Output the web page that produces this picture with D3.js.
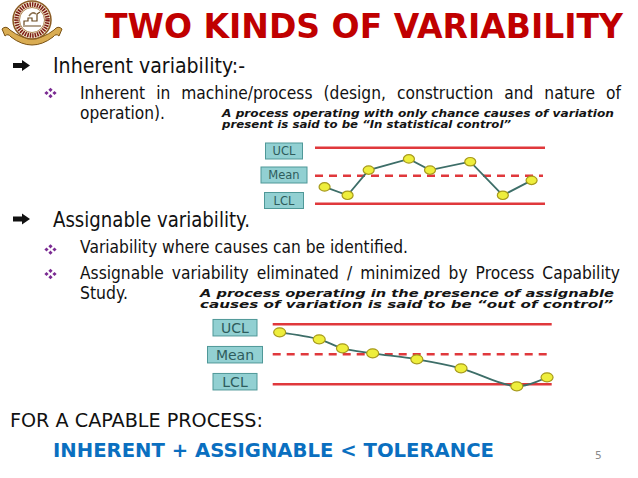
<!DOCTYPE html>
<html>
<head>
<meta charset="utf-8">
<script src="https://cdn.jsdelivr.net/npm/d3@7/dist/d3.min.js"></script>
<style>
  html, body { margin: 0; padding: 0; background: #ffffff; }
  svg { display: block; }
</style>
</head>
<body>
<script>
// ---------------- DATA ----------------
const titleText = "TWO KINDS OF VARIABILITY";
const limitLabels = ["UCL", "Mean", "LCL"];
const limitValues = [3, 0, -3];          // UCL, mean, LCL in sigma units
const chart1X = [0.5, 1.7, 2.8, 4.9, 6.0, 8.1, 9.8, 11.3];
const chart1Y = [-1.2, -2.1, 0.6, 1.8, 0.6, 1.5, -2.1, -0.5];
const chart2X = [0.3, 2.0, 3.0, 4.3, 6.2, 8.1, 10.5, 11.8];
const chart2Y = [2.2, 1.5, 0.6, 0.1, -0.5, -1.4, -3.2, -2.3];
const chart1Caption = ["A process operating with only chance causes of variation",
                       "present is said to be \u201CIn statistical control\u201D"];
const chart2Caption = ["A process operating in the presence of assignable",
                       "causes of variation is said to be \u201Cout of control\u201D"];

// ---------------- SETUP ----------------
const W = 638, H = 478;
const svg = d3.select("body").append("svg").attr("width", W).attr("height", H);
const BODY_FONT = "'DejaVu Sans', Verdana, sans-serif";

function measure(text, size, weight) {
  const t = svg.append("text").attr("font-family", BODY_FONT)
    .attr("font-size", size).attr("font-weight", weight || "normal").text(text);
  const w = t.node().getComputedTextLength();
  t.remove();
  return w;
}

function fitText(text, x0, x1, y, size, opts) {
  opts = opts || {};
  return svg.append("text")
    .attr("x", x0).attr("y", y)
    .attr("font-family", opts.family || BODY_FONT)
    .attr("font-size", size)
    .attr("font-weight", opts.weight || "normal")
    .attr("font-style", opts.style || "normal")
    .attr("fill", opts.fill || "#111")
    .attr("textLength", x1 - x0)
    .attr("lengthAdjust", "spacingAndGlyphs")
    .text(text);
}

// justified line: one text per word, each compressed by comp via transform, gaps spread evenly
function justified(text, x0, x1, y, size, comp) {
  const words = text.split(" ");
  const naturals = words.map(w => measure(w, size));
  const widths = naturals.map(n => n * comp);
  const gap = (x1 - x0 - d3.sum(widths)) / (words.length - 1);
  let x = x0;
  words.forEach((w, i) => {
    svg.append("text")
      .attr("transform", `translate(${x},${y}) scale(${comp},1)`)
      .attr("font-family", BODY_FONT).attr("font-size", size)
      .attr("fill", "#111")
      .text(w);
    x += widths[i] + gap;
  });
}

function arrowBullet(x, cy) {
  const p = d3.path();
  p.moveTo(x, cy - 2.6); p.lineTo(x + 9, cy - 2.6); p.lineTo(x + 9, cy - 5.5);
  p.lineTo(x + 17, cy); p.lineTo(x + 9, cy + 5.5); p.lineTo(x + 9, cy + 2.6);
  p.lineTo(x, cy + 2.6); p.closePath();
  svg.append("path").attr("d", p.toString()).attr("fill", "#111");
}

function diamondBullet(cx, cy) {
  const offs = [[0, -3.2], [0, 3.2], [-4, 0], [4, 0]];
  const g = svg.append("g").attr("transform", `translate(${cx},${cy})`);
  offs.forEach(o => {
    const s = 2.1;
    g.append("path")
      .attr("d", `M${o[0]},${o[1] - s}L${o[0] + s},${o[1]}L${o[0]},${o[1] + s}L${o[0] - s},${o[1]}Z`)
      .attr("fill", "#7a2a92");
  });
}

// ---------------- LOGO ----------------
(function logo() {
  const g = svg.append("g").attr("transform", "translate(32,20)");
  g.append("path").attr("d", "M-30,9 Q-26,5 -22,10 Q0,27 22,10 Q26,5 30,9 L27,16 Q24,13 21,17 Q0,33 -21,17 Q-24,13 -27,16 Z")
    .attr("fill", "#d9ac52").attr("stroke", "#7a5214").attr("stroke-width", 1);
  g.append("circle").attr("r", 19).attr("fill", "#f4ead0").attr("stroke", "#8a5a22").attr("stroke-width", 1.5);
  g.append("circle").attr("r", 15.5).attr("fill", "none").attr("stroke", "#7b1c14").attr("stroke-width", 4.5)
    .attr("stroke-dasharray", "1.5,1");
  g.append("circle").attr("r", 12.5).attr("fill", "#ffffff").attr("stroke", "#9a6a30").attr("stroke-width", 0.8);
  g.append("path").attr("d", "M-8,5 L-8,1 L-4,1 L-4,-2 L0,-2 L0,1 L5,1 L5,-6 L8,-8 M-9,6 L9,6")
    .attr("fill", "none").attr("stroke", "#6a4a20").attr("stroke-width", 1.2);
  g.append("path").attr("d", "M-3,-4 Q0,-9 4,-6").attr("fill", "none").attr("stroke", "#8a7050").attr("stroke-width", 1.5);
})();

// ---------------- TITLE ----------------
fitText(titleText, 105, 623, 38, 33, { weight: "bold", fill: "#c00000" });

// ---------------- BODY TEXT ----------------
const comp18 = 328 / measure("Variability where causes can be identified.", 18);

arrowBullet(13, 65.5);
fitText("Inherent variability:-", 53, 245, 73, 21);
diamondBullet(50.5, 93);
justified("Inherent in machine/process (design, construction and nature of", 80, 621, 99, 18, comp18);
fitText("operation).", 80, 165, 119, 18);

arrowBullet(13, 219);
fitText("Assignable variability.", 53, 250, 227, 21);
diamondBullet(50.5, 249.5);
fitText("Variability where causes can be identified.", 80, 408, 253, 18);
diamondBullet(50.5, 274);
justified("Assignable variability eliminated / minimized by Process Capability", 80, 620, 279, 18, comp18);
fitText("Study.", 80, 128, 299, 18);

fitText("FOR A CAPABLE PROCESS:", 10, 263, 427, 20);
fitText("INHERENT + ASSIGNABLE < TOLERANCE", 53, 494, 457, 19, { weight: "bold", fill: "#0a6fc0" });
svg.append("text").attr("x", 595).attr("y", 459).attr("font-family", BODY_FONT)
  .attr("font-size", 10.5).attr("fill", "#8a8a8a").text("5");

// ---------------- CONTROL CHARTS ----------------
function controlChart(cfg) {
  const x = d3.scaleLinear().domain([0, 12]).range(cfg.xRange);
  const y = d3.scaleLinear().domain([-3, 3]).range(cfg.yRange);
  const g = svg.append("g");

  cfg.caption.forEach((line, i) => {
    fitText(line, cfg.capX, cfg.capEnds[i], cfg.capY[i], 10.5,
      { family: "'DejaVu Sans', sans-serif", weight: "bold", style: "oblique", fill: "#141414" });
  });

  limitValues.forEach(v => {
    g.append("line")
      .attr("x1", x(0)).attr("x2", v === 0 ? cfg.meanEnd : x(12))
      .attr("y1", y(v)).attr("y2", y(v))
      .attr("stroke", "#e0383c").attr("stroke-width", 2.4)
      .attr("stroke-dasharray", v === 0 ? "8,6" : null);
  });

  limitLabels.forEach((lab, i) => {
    const bw = cfg.boxW[i], bh = cfg.boxH;
    const cy = cfg.boxCY[i];
    g.append("rect")
      .attr("x", cfg.boxCX - bw / 2).attr("y", cy - bh / 2)
      .attr("width", bw).attr("height", bh)
      .attr("fill", "#92d0d2").attr("stroke", "#4f9898").attr("stroke-width", 1);
    g.append("text")
      .attr("x", cfg.boxCX).attr("y", cy + cfg.labSize * 0.36)
      .attr("text-anchor", "middle")
      .attr("font-family", BODY_FONT).attr("font-size", cfg.labSize)
      .attr("fill", "#2e5c5c").text(lab);
  });

  const pts = cfg.xs.map((d, i) => ({ x: d, y: cfg.ys[i] }));
  const line = d3.line().x(d => x(d.x)).y(d => y(d.y)).curve(cfg.curve);
  g.append("path").attr("d", line(pts))
    .attr("fill", "none").attr("stroke", "#3d6e68").attr("stroke-width", 1.8);

  g.selectAll(".pt").data(pts).enter().append("ellipse")
    .attr("cx", d => x(d.x)).attr("cy", d => y(d.y))
    .attr("rx", cfg.rx).attr("ry", cfg.ry)
    .attr("fill", "#eeee3c").attr("stroke", "#a79a1c").attr("stroke-width", 1.2);
}

controlChart({
  xs: chart1X, ys: chart1Y, caption: chart1Caption,
  xRange: [315, 545], yRange: [203.7, 147.7], meanEnd: 543,
  capX: 222, capEnds: [614, 511], capY: [117.3, 127.8],
  boxCX: 284, boxW: [37, 46, 39], boxH: 16, boxCY: [151, 175, 200.5], labSize: 11.5,
  rx: 5.5, ry: 4.2, curve: d3.curveLinear
});

controlChart({
  xs: chart2X, ys: chart2Y, caption: chart2Caption,
  xRange: [272.7, 551.7], yRange: [384.3, 324.3], meanEnd: 551,
  capX: 200, capEnds: [614, 613], capY: [297, 308],
  boxCX: 235, boxW: [44, 55, 44], boxH: 16.5, boxCY: [327.7, 354.7, 381.7], labSize: 14,
  rx: 6, ry: 4.5, curve: d3.curveCatmullRom.alpha(0.5)
});
</script>
</body>
</html>
